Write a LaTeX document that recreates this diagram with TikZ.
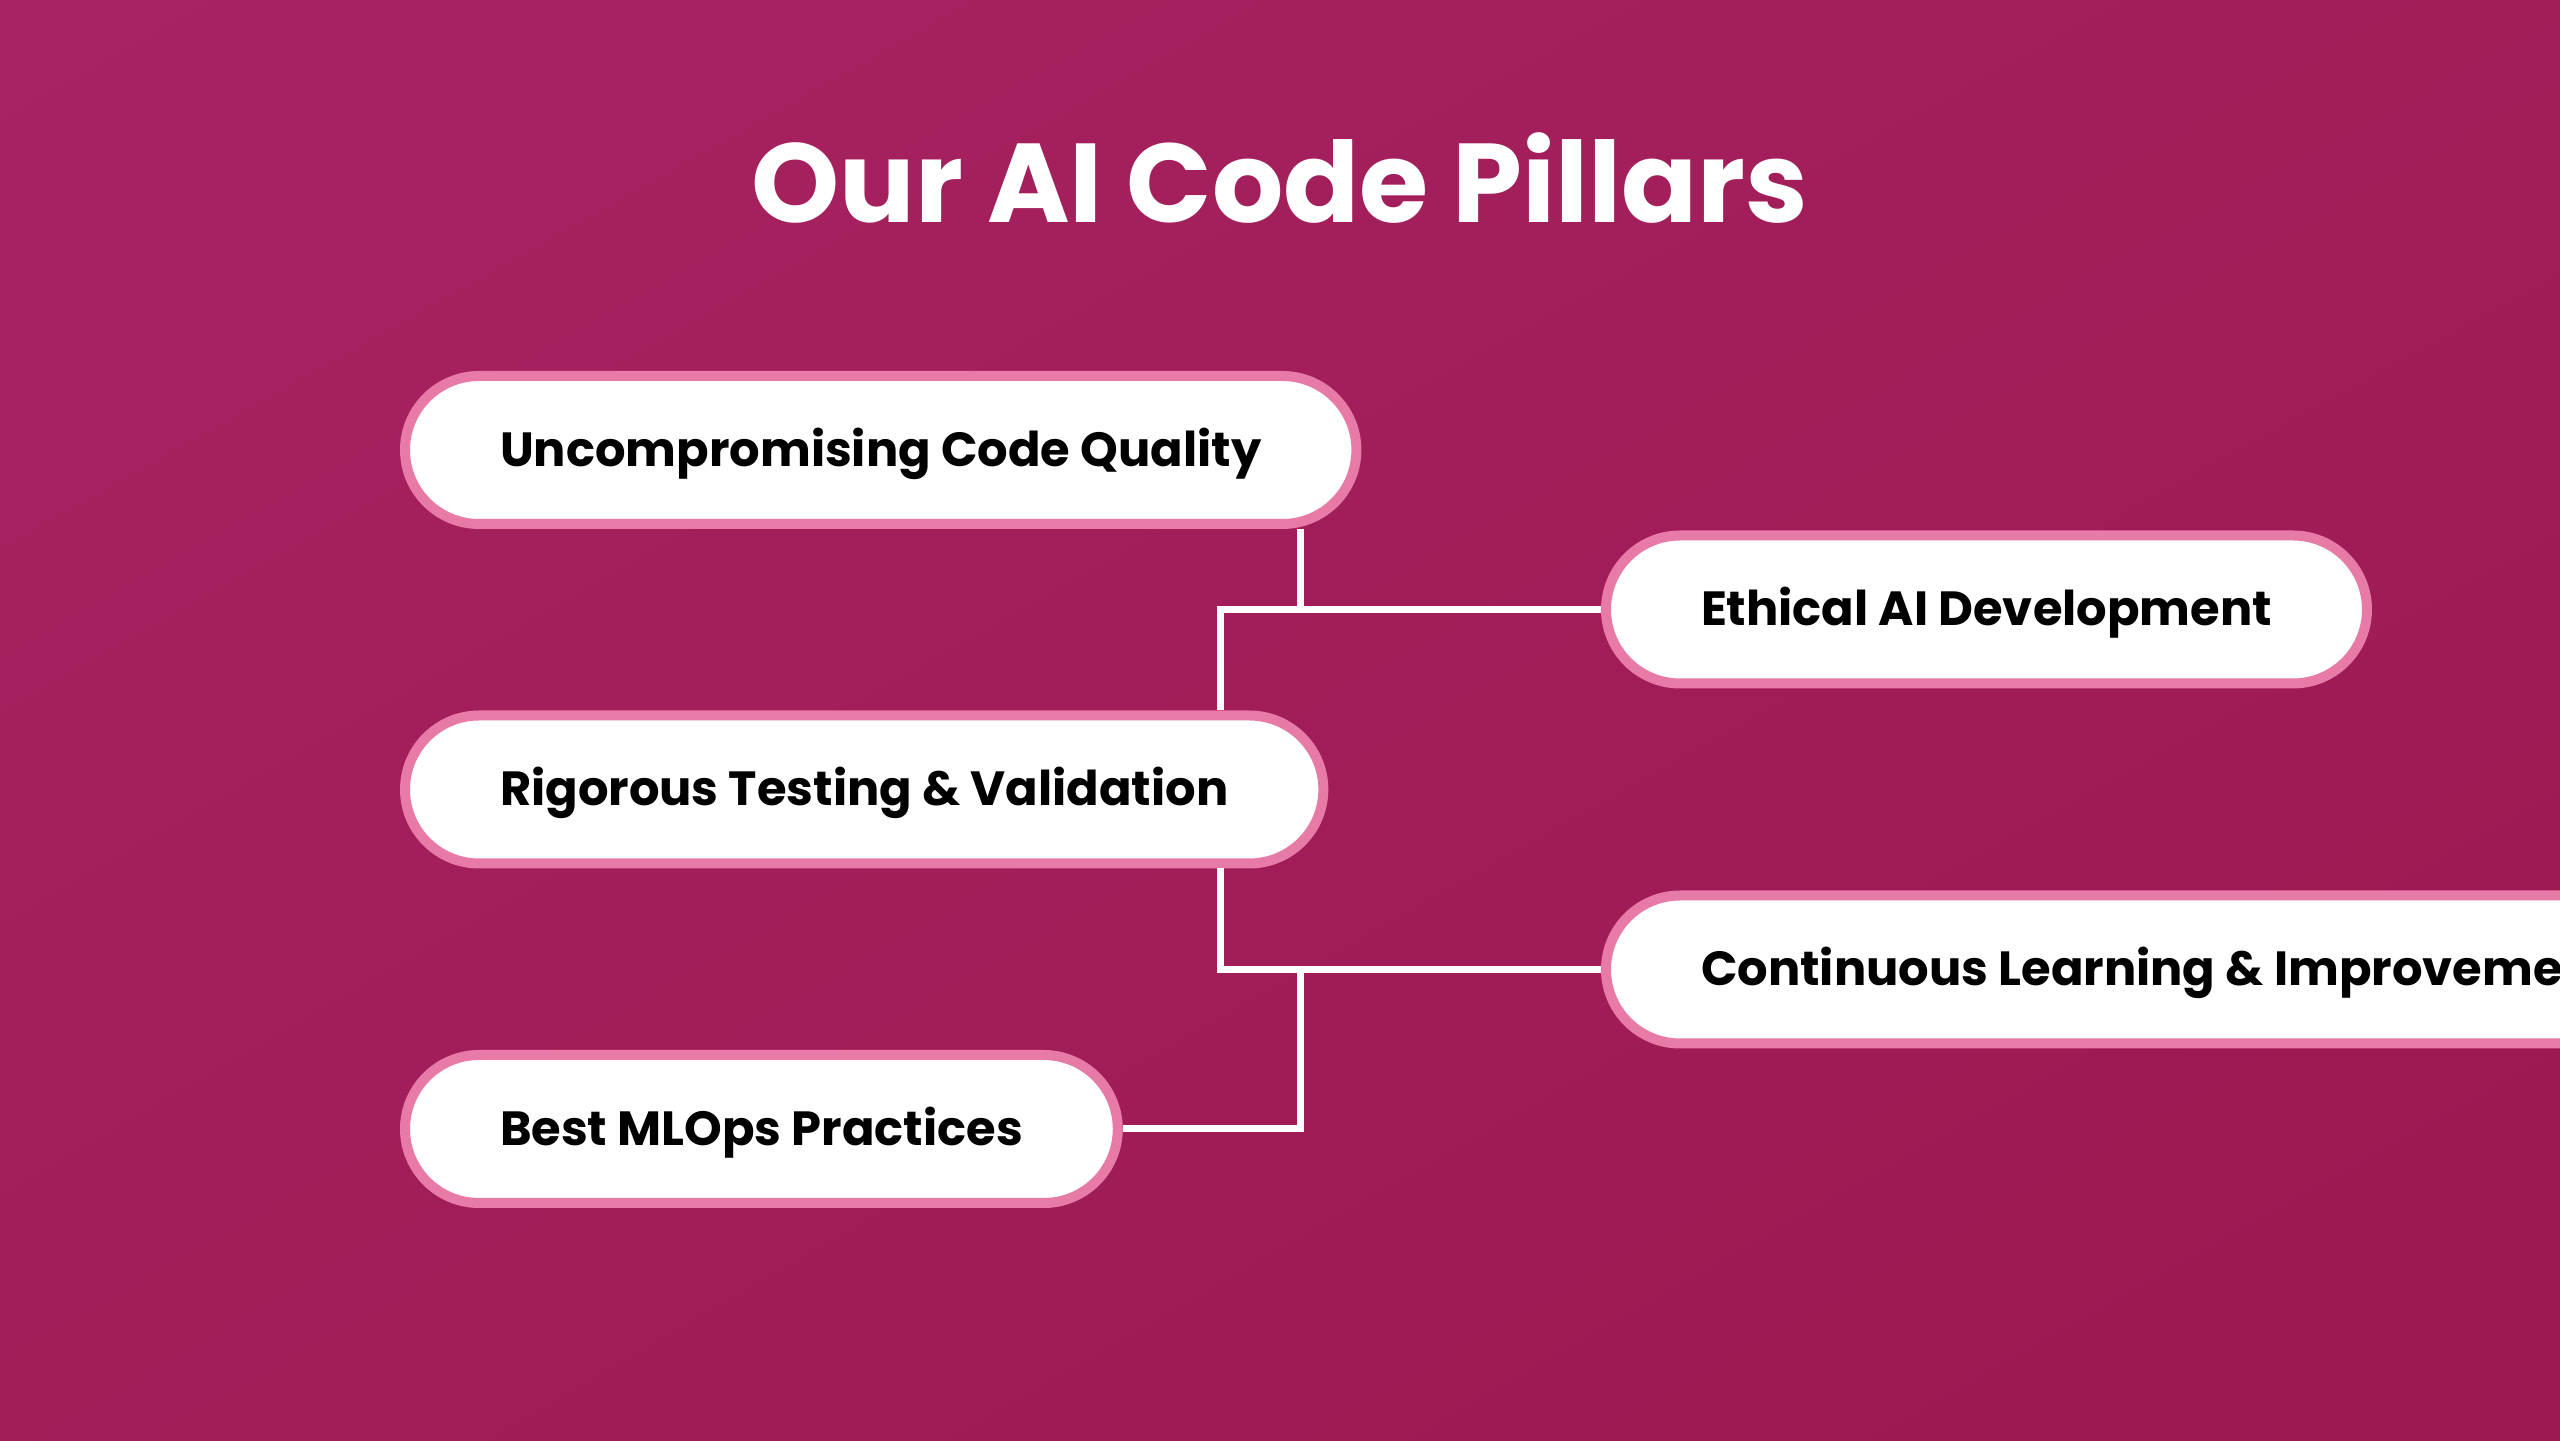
\documentclass[tikz,border=0pt]{standalone}
\usepackage{fontspec}
\setmainfont{Poppins}
\usepackage{tikz}
\usetikzlibrary{positioning}
\usetikzlibrary{shadings}
\definecolor{bgColorA}{rgb}{0.655,0.137,0.384}
\definecolor{bgColorB}{rgb}{0.608,0.094,0.314}
\definecolor{bgColorMid}{rgb}{0.631,0.116,0.349}
\definecolor{edgeColor}{rgb}{0.910,0.478,0.659}

\begin{document}
\begin{tikzpicture}

          \tikzstyle{titleNode} = [white, font=\fontsize{31.9pt}{36pt}\selectfont\bfseries, text height=0.78cm, text depth=0cm, inner sep=0pt];
          \tikzstyle{pillarNode} = [draw=edgeColor, fill=white, line width=0.1cm, rounded corners=0.74cm, minimum height=1.48cm, inner xsep=0.95cm, text height=0.33cm, text depth=0cm, anchor=west, font=\fontsize{13.65pt}{16pt}\selectfont\bfseries];
          \tikzstyle{linkEdge} = [white, line width=0.07cm];

          % background
          \shade[upper left=bgColorA, upper right=bgColorMid, lower left=bgColorMid, lower right=bgColorB] (0,0) rectangle (25.6,14.4);
          \useasboundingbox (0,0) rectangle (25.6,14.4);
          \clip (0,0) rectangle (25.6,14.4);

          \node[titleNode] (title) at (12.80,12.56) {Our AI Code Pillars};

          \node[pillarNode] (quality) at (4.00,9.90) {Uncompromising Code Quality};
          \node[pillarNode] (testing) at (4.00,6.505) {Rigorous Testing \& Validation};
          \node[pillarNode] (mlops) at (4.00,3.11) {Best MLOps Practices};
          \node[pillarNode] (ethics) at (16.01,8.305) {Ethical AI Development};
          \node[pillarNode] (learning) at (16.01,4.705) {Continuous Learning \& Improvement};

          \coordinate (railA) at (12.20,0);
          \coordinate (railB) at (13.00,0);

          \draw[linkEdge] (quality.south -| railB) |- (ethics.west);
          \draw[linkEdge] (testing.north -| railA) |- (ethics.west);
          \draw[linkEdge] (testing.south -| railA) |- (learning.west);
          \draw[linkEdge] (mlops.east) -| (railB |- learning.west);
        \end{tikzpicture}
\end{document}
